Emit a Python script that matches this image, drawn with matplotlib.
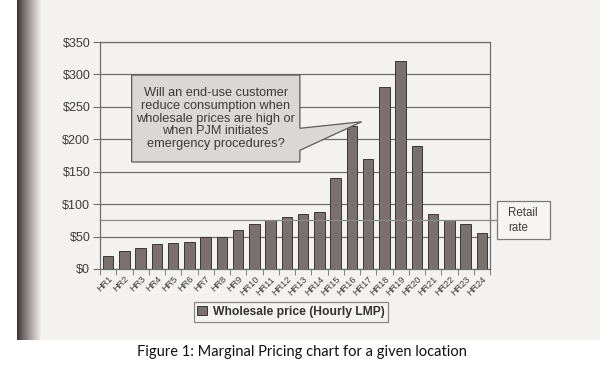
import numpy as np
import matplotlib.pyplot as plt
from matplotlib.patches import Polygon, Rectangle

# hourly wholesale price (LMP)
hours = ["HR%d" % i for i in range(1, 25)]
prices = [20, 27, 32, 38, 40, 42, 50, 50, 60, 70, 75, 80,
          85, 88, 140, 220, 170, 280, 320, 190, 85, 75, 70, 55]
retail_rate = 75
y_ticks = [0, 50, 100, 150, 200, 250, 300, 350]

plt.rcParams['font.family'] = ['Liberation Sans', 'DejaVu Sans']

fig = plt.figure(figsize=(6.09, 3.76), dpi=100)
fig.patch.set_facecolor('white')

# scanned page background with dark fold on the left
bg = fig.add_axes([17 / 609, 1 - 340 / 376, 583 / 609, 340 / 376])
px = np.arange(583)
shade = np.clip(px / 24.0, 0, 1) ** 0.9
paper = np.array([0.955, 0.950, 0.945])
dark = np.array([0.25, 0.20, 0.20])
row = dark[None, :] + (paper - dark)[None, :] * shade[:, None]
img = np.repeat(row[None, :, :], 10, axis=0)
bg.imshow(img, aspect='auto', extent=[0, 1, 0, 1])
bg.set_axis_off()

ax = fig.add_axes([100 / 609, 1 - 269 / 376, 390 / 609, 227 / 376])
ax.set_facecolor('none')

x = np.arange(len(hours))
ax.bar(x, prices, width=0.66, color='#7b7070', edgecolor='#3e3636',
       linewidth=0.7, zorder=3, label='Wholesale price (Hourly LMP)')

ax.set_xlim(-0.5, 23.5)
ax.set_ylim(0, 350)
ax.set_yticks(y_ticks)
ax.set_yticklabels(['$%d' % v for v in y_ticks], fontsize=9, color='#3c3c3c')
ax.yaxis.grid(True, color='#6e6e6e', linewidth=0.9, zorder=1)
ax.set_axisbelow(True)

ax.set_xticks(x)
ax.set_xticklabels(hours, rotation=45, ha='right', rotation_mode='anchor',
                   fontsize=6.6, color='#3c3c3c')
ax.set_xticks(np.arange(-0.5, 24, 1), minor=True)
ax.tick_params(axis='x', which='major', length=0, pad=4)
ax.tick_params(axis='x', which='minor', length=4, color='#6e6e6e')
ax.tick_params(axis='y', length=5, color='#6e6e6e', pad=2)
for s in ax.spines.values():
    s.set_color('#6e6e6e')
    s.set_linewidth(0.9)

# retail rate line running out to its label box
ax.plot([-0.5, 23.95], [retail_rate, retail_rate], color='#8a8a8a',
        linewidth=0.9, clip_on=False, zorder=4)
ax.add_patch(Rectangle((23.95, 46), 3.25, 59, facecolor='#f6f5f3',
                       edgecolor='#7a7a7a', linewidth=0.9, clip_on=False))
ax.text(24.6, 75, 'Retail\nrate', fontsize=8.3, color='#3c3c3c',
        ha='left', va='center', linespacing=1.3)

# callout box with pointer
callout = [(1.45, 299), (11.8, 299), (11.8, 217), (15.6, 227),
           (11.8, 183), (11.8, 165), (1.45, 165)]
ax.add_patch(Polygon(callout, closed=True, facecolor='#d9d8d7',
                     edgecolor='#5a5a5a', linewidth=0.9, zorder=5))
ax.text(6.62, 232, 'Will an end-use customer\nreduce consumption when\n'
        'wholesale prices are high or\nwhen PJM initiates\n'
        'emergency procedures?', fontsize=9.2, color='#3a3a3a',
        ha='center', va='center', linespacing=1.08, zorder=6)

leg = ax.legend(loc='upper center', bbox_to_anchor=(0.49, -0.12),
                frameon=True, fancybox=False, handlelength=0.8,
                handleheight=0.8, handletextpad=0.5, borderpad=0.3,
                prop={'weight': 'bold', 'size': 8.7})
leg.get_frame().set_edgecolor('#6e6e6e')
leg.get_frame().set_facecolor('#f6f5f3')
leg.get_frame().set_linewidth(0.9)
for t in leg.get_texts():
    t.set_color('#333333')

fig.text(0.495, 1 - 352 / 376, 'Figure 1: Marginal Pricing chart for a given location',
         ha='center', va='center', fontsize=10.5, family=['Lato', 'DejaVu Sans'],
         color='#111111')

plt.savefig('out.png', dpi=100)
